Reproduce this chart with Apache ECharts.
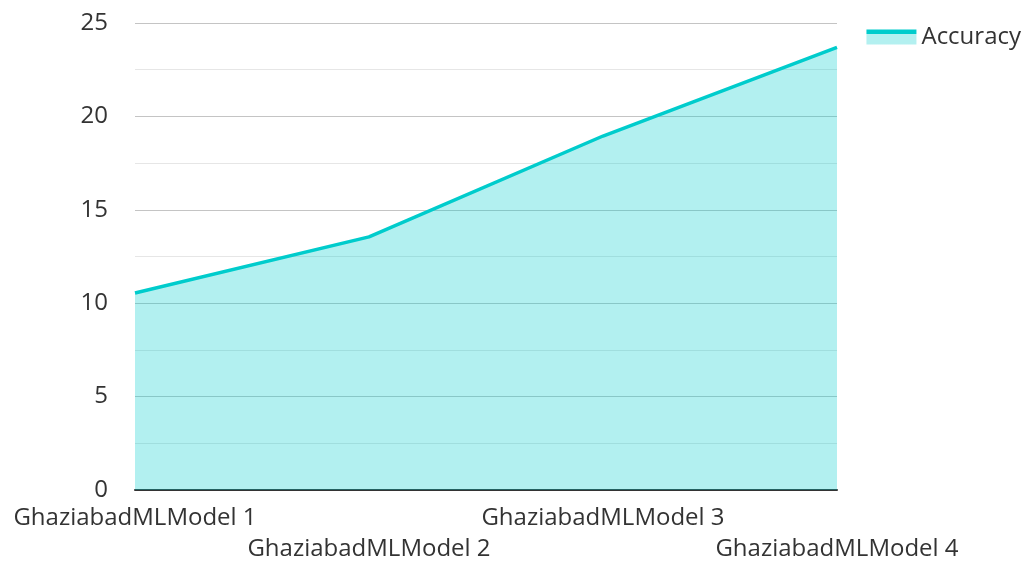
<!DOCTYPE html>
<html>
<head>
<meta charset="utf-8">
<script src="https://cdn.jsdelivr.net/npm/echarts@6/dist/echarts.min.js"></script>
<style>
  html, body { margin: 0; padding: 0; background: #fff; }
  #main { width: 1027px; height: 562px; }
</style>
</head>
<body>
<div id="main"></div>
<script>
// categories and values
var models = ['GhaziabadMLModel 1', 'GhaziabadMLModel 2', 'GhaziabadMLModel 3', 'GhaziabadMLModel 4'];
var accuracy = [10.55, 13.55, 18.95, 23.7];

var lineColor = '#00cccc';
var areaColor = '#b3f0f0';

var myChart = echarts.init(document.getElementById('main'));
myChart.setOption({
    textStyle: { fontFamily: 'Open Sans' },
    legend: {
        right: 1,
        top: 20,
        itemWidth: 50,
        itemHeight: 15,
        itemGap: 10,
        textStyle: { fontSize: 24, color: '#333', fontFamily: 'Open Sans' },
        data: [{
            name: 'Accuracy',
            icon: 'rect',
            itemStyle: {
                color: new echarts.graphic.LinearGradient(0, 0, 0, 1, [
                    { offset: 0, color: lineColor },
                    { offset: 0.28, color: lineColor },
                    { offset: 0.28, color: areaColor },
                    { offset: 1, color: areaColor }
                ])
            }
        }]
    },
    grid: { left: 135, right: 190, top: 23, bottom: 72, outerBoundsMode: 'none' },
    xAxis: {
        type: 'category',
        boundaryGap: false,
        data: models,
        axisLine: { lineStyle: { color: '#333', width: 2 } },
        axisTick: { show: false },
        axisLabel: {
            interval: 0,
            fontSize: 24,
            color: '#333',
            lineHeight: 31,
            margin: 13,
            formatter: function (v, i) { return i % 2 ? '\n' + v : v; }
        },
        splitLine: { show: false }
    },
    yAxis: {
        type: 'value',
        min: 0,
        max: 25,
        interval: 5,
        axisLine: { show: false },
        axisTick: { show: false },
        axisLabel: { fontSize: 24, color: '#333', margin: 27 },
        splitLine: { lineStyle: { color: '#c4c4c4', width: 1 } },
        minorTick: { show: false, splitNumber: 2 },
        minorSplitLine: { show: true, lineStyle: { color: '#e6e6e6', width: 1 } }
    },
    series: [{
        name: 'Accuracy',
        type: 'line',
        data: accuracy,
        symbol: 'none',
        lineStyle: { color: lineColor, width: 3.5 },
        itemStyle: { color: lineColor },
        areaStyle: { color: lineColor, opacity: 0.3 }
    }]
});
</script>
</body>
</html>
